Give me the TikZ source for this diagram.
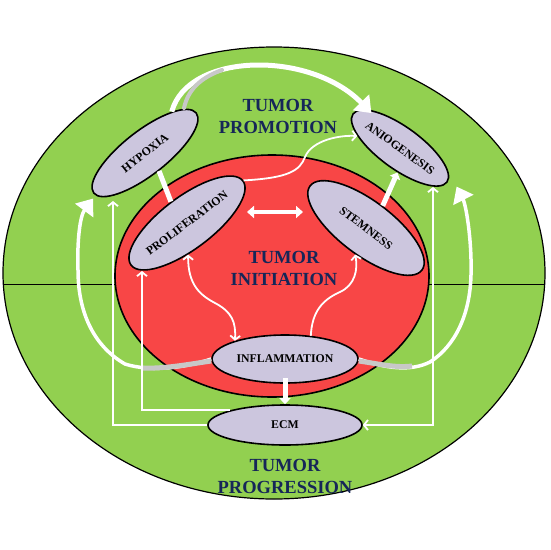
\documentclass[tikz,border=0pt]{standalone}
\usepackage{fontspec}
\setmainfont{Liberation Serif}
\usetikzlibrary{shapes.geometric,arrows.meta}
\definecolor{grn}{RGB}{146,208,80}
\definecolor{rd}{RGB}{248,70,70}
\definecolor{lav}{RGB}{204,198,222}
\definecolor{navy}{RGB}{22,38,88}
\definecolor{ribbon}{RGB}{200,200,200}
\begin{document}
\begin{tikzpicture}[x=1pt,y=-1pt,
  proc/.style={ellipse, draw=black, line width=1.6pt, fill=lav, inner sep=0pt,
    font=\bfseries\fontsize{11.8}{13}\selectfont},
  stage/.style={text=navy, font=\bfseries\fontsize{18.5}{22}\selectfont, align=center},
  thinarrow/.style={draw=white, line width=1.8pt, -{Straight Barb[length=4pt,width=10pt]}},
  thinboth/.style={draw=white, line width=1.8pt, {Straight Barb[length=4pt,width=10pt]}-{Straight Barb[length=4pt,width=10pt]}},
  whitebar/.style={draw=white, line width=5pt},
  bararrow/.style={draw=white, line width=5pt, -{Triangle[length=6pt,width=11pt]}},
  barboth/.style={draw=white, line width=4pt, {Triangle[length=7pt,width=12pt]}-{Triangle[length=7pt,width=12pt]}},
  bigarrow/.style={draw=white, line width=5pt, -{Triangle[length=15pt,width=22pt]}},
  ribbonline/.style={draw=ribbon, line width=4pt, line cap=round}
]
\useasboundingbox (0,0) rectangle (550,550);
\fill[white] (0,0) rectangle (550,550);
\draw[fill=grn, line width=1.2pt] (274,273) ellipse [x radius=271pt, y radius=226pt];
\begin{scope}
  \clip (274,273) ellipse [x radius=271pt, y radius=226pt];
  \draw[line width=1pt] (0,284) -- (550,284);
\end{scope}
\draw[fill=rd, line width=1.6pt] (272,276) ellipse [x radius=157pt, y radius=121pt];

% process nodes
\node[proc, rotate=38, minimum width=130pt, minimum height=44pt] (hyp) at (145,153) {HYPOXIA};
\node[proc, rotate=37, minimum width=140pt, minimum height=52pt] (prolif) at (187,223) {PROLIFERATION};
\node[proc, rotate=-36, minimum width=116pt, minimum height=42pt] (anio) at (400,148) {ANIOGENESIS};
\node[proc, rotate=-37, minimum width=140pt, minimum height=54pt] (stem) at (366,228) {STEMNESS};
\node[proc, minimum width=146pt, minimum height=48pt] (infl) at (285,359) {INFLAMMATION};
\node[proc, minimum width=154pt, minimum height=40pt] (ecm) at (285,425) {ECM};

% stage labels
\node[stage] (tprom) at (278,116) {TUMOR\\PROMOTION};
\node[stage] (tinit) at (284,268) {TUMOR\\INITIATION};
\node[stage] (tprog) at (285,476) {TUMOR\\PROGRESSION};

% free ends on node borders
\coordinate (h1) at (113,201);
\coordinate (p1) at (142,271);
\coordinate (a1) at (433,187);
\coordinate (m1) at (247,212);
\coordinate (m2) at (303,212);

% big curved arrows
\draw[bigarrow] (hyp.north east) .. controls (188,52) and (310,50) .. ([xshift=-4pt,yshift=-2pt]anio.north west);
\draw[ribbonline] (184,108) .. controls (188,90) and (200,78) .. (222,70);

\draw[bigarrow, line width=3.5pt] (infl.west) .. controls (185,368) and (150,372) .. (125,364)
  .. controls (92,345) and (78,310) .. (78,270)
  .. controls (77,240) and (80,216) .. ([yshift=-5pt]hyp.west);
\draw[ribbonline, line width=5pt, line cap=butt] ([yshift=-2pt]infl.west) .. controls (190,364) and (165,369) .. (142,368);

\draw[bigarrow, line width=3.5pt] (infl.east) .. controls (385,368) and (410,372) .. (430,362)
  .. controls (455,346) and (470,315) .. (471,275)
  .. controls (472,240) and (466,205) .. ([xshift=9pt,yshift=-4pt]anio.east);
\draw[ribbonline, line width=5pt, line cap=butt] ([yshift=-2pt]infl.east) .. controls (380,364) and (395,368) .. (412,366);

% straight white connectors
\draw[thinarrow] (ecm.west) -| (h1);
\draw[thinarrow] (ecm.north west) -| (p1);
\draw[thinboth] (a1) |- (ecm.east);
\draw[bararrow] ([yshift=6pt]infl.south) -- (ecm.north);
\draw[whitebar] (hyp.south) -- (prolif.north);
\draw[bararrow] (stem.north) -- (anio.-60);
\draw[barboth] (m1) -- (m2);

% thin curved connectors
\draw[thinarrow] (prolif.east) .. controls (290,178) and (300,170) .. (305,157)
  .. controls (312,140) and (340,135) .. (anio.south west);
\draw[thinboth] (prolif.-125) .. controls (188,285) and (200,295) .. (215,303)
  .. controls (232,312) and (236,322) .. (infl.160);
\draw[thinarrow] (infl.42) .. controls (312,312) and (322,300) .. (340,292)
  .. controls (355,285) and (358,270) .. (stem.-75);
\end{tikzpicture}
\end{document}
